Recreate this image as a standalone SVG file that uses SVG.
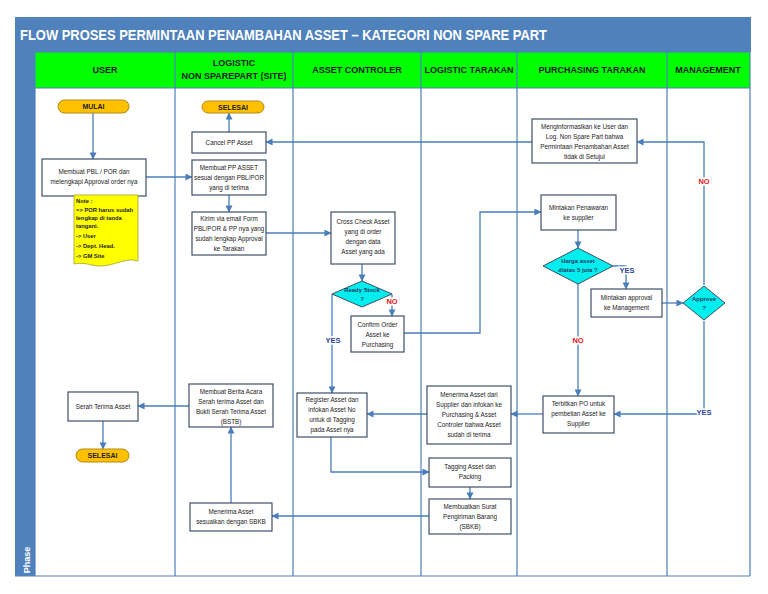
<svg xmlns="http://www.w3.org/2000/svg" width="768" height="594" viewBox="0 0 768 594">
<defs>
<marker id="ah" viewBox="0 0 8 8" refX="7.5" refY="4" markerWidth="7" markerHeight="7" markerUnits="userSpaceOnUse" orient="auto">
<path d="M0,0 L8,4 L0,8 z" fill="#4A7EBB"/>
</marker>
<style>
.lane{stroke:#4F81BD;stroke-width:1.2;fill:none}
.hdr{font-family:"Liberation Sans",Arial,sans-serif;font-weight:bold;font-size:9px;fill:#1a1a1a;text-anchor:middle}
.box{fill:#ffffff;stroke:#3F4F66;stroke-width:1.2}
.t{font-family:"Liberation Sans",Arial,sans-serif;font-size:6.3px;fill:#222;text-anchor:middle}
.term{fill:#FFC000;stroke:#B08A1A;stroke-width:1}
.tb{font-family:"Liberation Sans",Arial,sans-serif;font-weight:bold;font-size:7px;fill:#222;text-anchor:middle}
.dia{fill:#00EEEE;stroke:#3F4F66;stroke-width:1}
.dt{font-family:"Liberation Sans",Arial,sans-serif;font-weight:bold;font-size:5.9px;fill:#1F3864;text-anchor:middle}
.con{stroke:#4A7EBB;stroke-width:1.3;fill:none;marker-end:url(#ah)}
.yes{font-family:"Liberation Sans",Arial,sans-serif;font-weight:bold;font-size:7.5px;fill:#2E3FA0;text-anchor:middle;stroke:#fff;stroke-width:3;paint-order:stroke}
.no{font-family:"Liberation Sans",Arial,sans-serif;font-weight:bold;font-size:7.5px;fill:#E8141B;text-anchor:middle;stroke:#fff;stroke-width:3;paint-order:stroke}
.nt{font-family:"Liberation Sans",Arial,sans-serif;font-weight:bold;font-size:5.8px;fill:#222}
</style>
</defs>
<rect x="0" y="0" width="768" height="594" fill="#ffffff"/>
<rect x="15" y="17" width="736" height="35" fill="#4F81BD"/>
<text x="20" y="40" font-family="Liberation Sans,Arial,sans-serif" font-weight="bold" font-size="14" fill="#ffffff" textLength="527" lengthAdjust="spacingAndGlyphs">FLOW PROSES PERMINTAAN PENAMBAHAN ASSET – KATEGORI NON SPARE PART</text>
<rect x="15" y="52" width="20" height="524" fill="#4F81BD"/>
<text transform="translate(30,560) rotate(-90)" font-family="Liberation Sans,Arial,sans-serif" font-weight="bold" font-size="9" fill="#ffffff" text-anchor="middle">Phase</text>
<rect x="35" y="52" width="715" height="36" fill="#00FF00"/>
<rect x="35" y="88" width="715" height="488" fill="#ffffff"/>
<g id="lanes">
<path class="lane" d="M35,52 V576 M175,52 V576 M293,52 V576 M421,52 V576 M517,52 V576 M667,52 V576 M750,52 V576 M35,88 H750 M35,52 H750 M15,576 H750"/>
<text class="hdr" x="105" y="73">USER</text>
<text class="hdr" x="234" y="66">LOGISTIC</text>
<text class="hdr" x="234" y="79">NON SPAREPART (SITE)</text>
<text class="hdr" x="357" y="73">ASSET CONTROLER</text>
<text class="hdr" x="469" y="73">LOGISTIC TARAKAN</text>
<text class="hdr" x="592" y="73">PURCHASING TARAKAN</text>
<text class="hdr" x="708" y="73">MANAGEMENT</text>
</g>
<g id="connectors">
<path class="con" d="M93,113 V159"/>
<path class="con" d="M146,177 H192"/>
<path class="con" d="M229,132 V113"/>
<path class="con" d="M229,195 V212"/>
<path class="con" d="M266,233 H331"/>
<path class="con" d="M362,264 V281"/>
<path class="con" d="M392,294 V316"/>
<path class="con" d="M332,294 V393"/>
<path class="con" d="M404,333 H480 V212 H541"/>
<path class="con" d="M578,230 V248"/>
<path class="con" d="M613,266 H626 V289"/>
<path class="con" d="M662,303 H683"/>
<path class="con" d="M704,285 V142 H637"/>
<path class="con" d="M532,142 H266"/>
<path class="con" d="M704,321 V414 H614"/>
<path class="con" d="M578,284 V396"/>
<path class="con" d="M543,414 H511"/>
<path class="con" d="M427,414 H367"/>
<path class="con" d="M331,437 V472 H429"/>
<path class="con" d="M470,487 V499"/>
<path class="con" d="M429,516 H272"/>
<path class="con" d="M231,503 V427"/>
<path class="con" d="M189,406 H138"/>
<path class="con" d="M103,421 V449"/>
<text class="no" x="392" y="304">NO</text>
<text class="yes" x="333" y="343">YES</text>
<text class="yes" x="627" y="273">YES</text>
<text class="no" x="704" y="184">NO</text>
<text class="yes" x="704" y="415">YES</text>
<text class="no" x="578" y="343">NO</text>
</g>
<g id="mulai">
<rect class="term" x="58" y="100" width="71" height="13" rx="6.5"/>
<text class="tb" x="93.5" y="109">MULAI</text>
</g>
<g id="buat-pbl">
<rect class="box" x="42" y="159" width="104" height="37"/>
<text class="t" x="94" y="174">Membuat PBL / POR dan</text>
<text class="t" x="94" y="184">melengkapi Approval order nya</text>
</g>
<g id="note">
<path d="M74,195 H138 V261 C124,256 110,270 92,265 C84,263 79,263 74,264 Z" fill="#FFFF00" stroke="#A0A030" stroke-width="0.8"/>
<text class="nt" x="76" y="203">Note :</text>
<text class="nt" x="76" y="212">=&gt; POR harus sudah</text>
<text class="nt" x="76" y="220">lengkap di tanda</text>
<text class="nt" x="76" y="228">tangani.</text>
<text class="nt" x="76" y="238">-&gt; User</text>
<text class="nt" x="76" y="248">-&gt; Dept. Head.</text>
<text class="nt" x="76" y="258">-&gt; GM Site</text>
</g>
<g id="selesai-1">
<rect class="term" x="202" y="101" width="62" height="12" rx="6"/>
<text class="tb" x="233" y="109.5">SELESAI</text>
</g>
<g id="cancel">
<rect class="box" x="192" y="132" width="74" height="21"/>
<text class="t" x="229" y="144.5">Cancel PP Asset</text>
</g>
<g id="buat-pp">
<rect class="box" x="192" y="160" width="74" height="35"/>
<text class="t" x="229" y="170">Membuat PP ASSET</text>
<text class="t" x="229" y="180">sesuai dengan PBL/POR</text>
<text class="t" x="229" y="190">yang di terima</text>
</g>
<g id="kirim">
<rect class="box" x="192" y="212" width="74" height="43"/>
<text class="t" x="229" y="221">Kirim via email Form</text>
<text class="t" x="229" y="231">PBL/POR &amp; PP nya yang</text>
<text class="t" x="229" y="241">sudah lengkap Approval</text>
<text class="t" x="229" y="251">ke Tarakan</text>
</g>
<g id="cross-check">
<rect class="box" x="331" y="212" width="64" height="52"/>
<text class="t" x="363" y="224">Cross Check Asset</text>
<text class="t" x="363" y="234">yang di order</text>
<text class="t" x="363" y="244">dengan data</text>
<text class="t" x="363" y="254">Asset yang ada</text>
</g>
<g id="ready-stock">
<path class="dia" d="M362,281 L392,294 L362,307 L332,294 Z"/>
<text class="dt" x="362" y="292">Ready Stock</text>
<text class="dt" x="362" y="301">?</text>
</g>
<g id="confirm">
<rect class="box" x="351" y="316" width="53" height="36"/>
<text class="t" x="377.5" y="327">Confirm Order</text>
<text class="t" x="377.5" y="337">Asset ke</text>
<text class="t" x="377.5" y="347">Purchasing</text>
</g>
<g id="menginformasikan">
<rect class="box" x="532" y="119" width="105" height="44"/>
<text class="t" x="584.5" y="129">Menginformasikan ke User dan</text>
<text class="t" x="584.5" y="139">Log. Non Spare Part bahwa</text>
<text class="t" x="584.5" y="149">Permintaan Penambahan Asset</text>
<text class="t" x="584.5" y="159">tidak di Setujui</text>
</g>
<g id="penawaran">
<rect class="box" x="541" y="195" width="75" height="35"/>
<text class="t" x="578.5" y="210">Mintakan Penawaran</text>
<text class="t" x="578.5" y="220">ke supplier</text>
</g>
<g id="harga">
<path class="dia" d="M578,248 L613,266 L578,284 L543,266 Z"/>
<text class="dt" x="578" y="263">Harga asset</text>
<text class="dt" x="578" y="272">diatas 5 juta ?</text>
</g>
<g id="approval">
<rect class="box" x="591" y="289" width="71" height="28"/>
<text class="t" x="626.5" y="300">Mintakan approval</text>
<text class="t" x="626.5" y="310">ke Management</text>
</g>
<g id="approve">
<path class="dia" d="M704,286 L725,303 L704,320 L683,303 Z"/>
<text class="dt" x="704" y="301">Approve</text>
<text class="dt" x="704" y="310">?</text>
</g>
<g id="terbitkan">
<rect class="box" x="543" y="396" width="71" height="37"/>
<text class="t" x="578.5" y="406">Terbitkan PO untuk</text>
<text class="t" x="578.5" y="416">pembelian Asset ke</text>
<text class="t" x="578.5" y="426">Supplier</text>
</g>
<g id="menerima-dari">
<rect class="box" x="427" y="386" width="84" height="58"/>
<text class="t" x="469" y="397">Menerima Asset dari</text>
<text class="t" x="469" y="407">Supplier dan infokan ke</text>
<text class="t" x="469" y="417">Purchasing &amp; Asset</text>
<text class="t" x="469" y="427">Controler bahwa Asset</text>
<text class="t" x="469" y="437">sudah di terima</text>
</g>
<g id="register">
<rect class="box" x="297" y="393" width="70" height="44"/>
<text class="t" x="332" y="402">Register Asset dan</text>
<text class="t" x="332" y="412">infokan Asset No</text>
<text class="t" x="332" y="422">untuk di Tagging</text>
<text class="t" x="332" y="432">pada Asset nya</text>
</g>
<g id="tagging">
<rect class="box" x="429" y="458" width="82" height="29"/>
<text class="t" x="470" y="469">Tagging Asset dan</text>
<text class="t" x="470" y="479">Packing</text>
</g>
<g id="sbkb">
<rect class="box" x="429" y="499" width="82" height="35"/>
<text class="t" x="470" y="509">Membuatkan Surat</text>
<text class="t" x="470" y="519">Pengiriman Barang</text>
<text class="t" x="470" y="529">(SBKB)</text>
</g>
<g id="menerima-sbkb">
<rect class="box" x="190" y="503" width="82" height="28"/>
<text class="t" x="231" y="514">Menerima Asset</text>
<text class="t" x="231" y="524">sesuaikan dengan SBKB</text>
</g>
<g id="berita-acara">
<rect class="box" x="189" y="384" width="84" height="43"/>
<text class="t" x="231" y="394">Membuat Berita Acara</text>
<text class="t" x="231" y="404">Serah terima Asset dan</text>
<text class="t" x="231" y="414">Bukti Serah Terima Asset</text>
<text class="t" x="231" y="424">(BSTB)</text>
</g>
<g id="serah-terima">
<rect class="box" x="68" y="392" width="70" height="29"/>
<text class="t" x="103" y="408.5">Serah Terima Asset</text>
</g>
<g id="selesai-2">
<rect class="term" x="76" y="449" width="53" height="13" rx="6.5"/>
<text class="tb" x="102.5" y="458">SELESAI</text>
</g>
</svg>
